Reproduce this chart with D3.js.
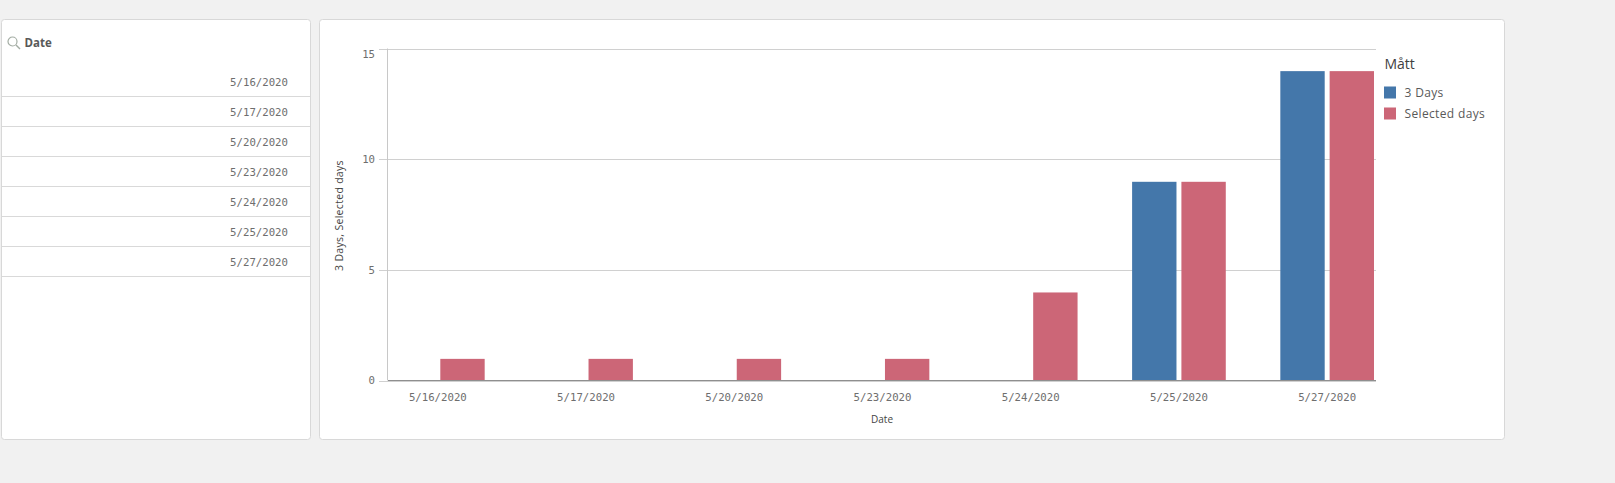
<!DOCTYPE html>
<html>
<head>
<meta charset="utf-8">
<script src="https://cdn.jsdelivr.net/npm/d3@7"></script>
<style>
html, body { margin: 0; padding: 0; background: #f1f1f1; overflow: hidden; }
svg { display: block; }
.mono { font-family: "DejaVu Sans Mono", monospace; font-size: 10.7px; fill: #6e6e6e; }
.sans { font-family: "Open Sans", sans-serif; }
</style>
</head>
<body>
<div id="chart"></div>
<script>
var dates = ["5/16/2020", "5/17/2020", "5/20/2020", "5/23/2020", "5/24/2020", "5/25/2020", "5/27/2020"];
var seriesNames = ["3 Days", "Selected days"];
var threeDays = [0, 0, 0, 0, 0, 9, 14];
var selectedDays = [1, 1, 1, 1, 4, 9, 14];
var yTicks = [0, 5, 10, 15];
var seriesColors = ["#4477aa", "#cc6677"];

var width = 1615, height = 483;
var svg = d3.select("#chart").append("svg")
    .attr("width", width)
    .attr("height", height);

// the two cards
function card(x, y, w, h) {
    svg.append("rect")
        .attr("x", x).attr("y", y)
        .attr("width", w).attr("height", h)
        .attr("rx", 3)
        .attr("fill", "#fff")
        .attr("stroke", "#d8d8d8")
        .attr("stroke-width", 1);
}
card(1.5, 19.5, 309, 420);
card(319.5, 19.5, 1185, 420);

// filter pane on the left
var search = svg.append("g").attr("transform", "translate(7,36)");
search.append("circle")
    .attr("cx", 5.5).attr("cy", 5.5).attr("r", 4.5)
    .attr("fill", "none").attr("stroke", "#a3aca3").attr("stroke-width", 1.2);
search.append("line")
    .attr("x1", 9).attr("y1", 9).attr("x2", 13).attr("y2", 13)
    .attr("stroke", "#a3aca3").attr("stroke-width", 1.4);

svg.append("text")
    .attr("class", "sans")
    .attr("x", 24.5).attr("y", 47)
    .attr("font-size", 11.5)
    .attr("font-weight", 700)
    .attr("fill", "#595959")
    .text("Date");

var rowY = d3.scaleBand().domain(dates).range([66.5, 276.5]);

svg.selectAll(".row-line")
    .data(dates)
    .enter()
    .append("line")
    .attr("class", "row-line")
    .attr("x1", 2).attr("x2", 310)
    .attr("y1", d => rowY(d) + rowY.bandwidth())
    .attr("y2", d => rowY(d) + rowY.bandwidth())
    .attr("stroke", "#d9d9d9");

svg.selectAll(".row-label")
    .data(dates)
    .enter()
    .append("text")
    .attr("class", "row-label mono")
    .attr("x", 288)
    .attr("y", d => rowY(d) + rowY.bandwidth() / 2 + 0.5)
    .attr("dy", ".35em")
    .attr("text-anchor", "end")
    .text(d => d);

// bar chart
var x = d3.scaleBand()
    .domain(dates)
    .range([391, 1374])
    .paddingInner(0.368)
    .paddingOuter(0);

var xInner = d3.scaleBand()
    .domain(seriesNames)
    .range([0, x.bandwidth()])
    .paddingInner(0.1)
    .paddingOuter(0);

var y = d3.scaleLinear()
    .domain([0, 15])
    .range([380.5, 48.5]);

var plotLeft = 388, plotRight = 1376;

// gridlines with the small tick stub on the left
svg.selectAll(".grid")
    .data(yTicks)
    .enter()
    .append("line")
    .attr("class", "grid")
    .attr("x1", plotLeft - 9).attr("x2", plotRight)
    .attr("y1", d => Math.round(y(d)) + 0.5)
    .attr("y2", d => Math.round(y(d)) + 0.5)
    .attr("stroke", "#d0d0d0");

svg.append("line")
    .attr("x1", plotLeft - 0.5).attr("x2", plotLeft - 0.5)
    .attr("y1", y(15)).attr("y2", y(0))
    .attr("stroke", "#c8c8c8");

// the top label is pushed down so it stays inside the plot
svg.selectAll(".y-label")
    .data(yTicks)
    .enter()
    .append("text")
    .attr("class", "y-label mono")
    .attr("x", 375)
    .attr("y", d => d === 15 ? y(d) + 6 : y(d))
    .attr("dy", ".35em")
    .attr("text-anchor", "end")
    .attr("font-size", 11)
    .text(d => d);

// zero height bars still show up as a thin line on the baseline
var groups = [threeDays, selectedDays];
groups.forEach(function (values, i) {
    svg.selectAll(".bar-" + i)
        .data(values)
        .enter()
        .append("rect")
        .attr("class", "bar-" + i)
        .attr("x", (d, j) => x(dates[j]) + xInner(seriesNames[i]))
        .attr("y", d => y(d) + 0.5)
        .attr("width", xInner.bandwidth())
        .attr("height", d => Math.max(0, y(0) - y(d) - 0.5))
        .attr("fill", seriesColors[i]);
});

svg.append("line")
    .attr("x1", plotLeft).attr("x2", plotRight)
    .attr("y1", 380.5).attr("y2", 380.5)
    .attr("stroke", "#8f8f8f");

svg.selectAll(".x-label")
    .data(dates)
    .enter()
    .append("text")
    .attr("class", "x-label mono")
    .attr("x", d => x(d) + x.bandwidth() / 2)
    .attr("y", 397)
    .attr("dy", ".35em")
    .attr("text-anchor", "middle")
    .text(d => d);

// axis titles
svg.append("text")
    .attr("class", "sans")
    .attr("x", 882).attr("y", 423)
    .attr("text-anchor", "middle")
    .attr("font-size", 10)
    .attr("fill", "#444")
    .text("Date");

svg.append("text")
    .attr("class", "sans")
    .attr("transform", "translate(343,215.5) rotate(-90)")
    .attr("text-anchor", "middle")
    .attr("font-size", 10.5)
    .attr("letter-spacing", 0.3)
    .attr("fill", "#444")
    .text(seriesNames.join(", "));

// legend
svg.append("text")
    .attr("class", "sans")
    .attr("x", 1384.5).attr("y", 69)
    .attr("font-size", 14)
    .attr("fill", "#404040")
    .text("Mått");

var legend = svg.selectAll(".legend")
    .data(seriesNames)
    .enter()
    .append("g")
    .attr("class", "legend")
    .attr("transform", (d, i) => "translate(1384," + (86.5 + i * 21) + ")");

legend.append("rect")
    .attr("width", 12)
    .attr("height", 12)
    .attr("fill", (d, i) => seriesColors[i]);

legend.append("text")
    .attr("class", "sans")
    .attr("x", 20.5).attr("y", 6)
    .attr("dy", ".35em")
    .attr("font-size", 12)
    .attr("letter-spacing", 0.35)
    .attr("fill", "#595959")
    .text(d => d);
</script>
</body>
</html>
